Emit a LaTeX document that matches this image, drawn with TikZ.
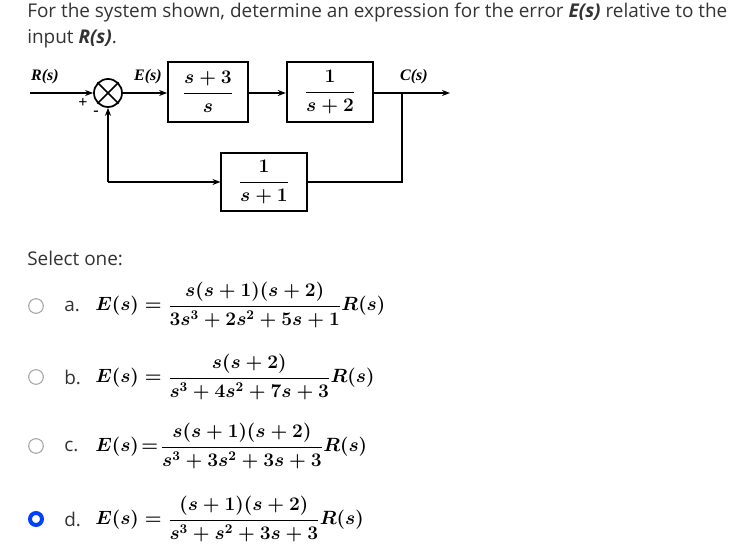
\documentclass[tikz,border=0pt]{standalone}
\usepackage{fontspec}
\usepackage{amsmath}
\setmainfont{Open Sans}
\newfontfamily\serifb{Liberation Serif}
\usetikzlibrary{arrows.meta}
\begin{document}
\begin{tikzpicture}[x=0.75pt,y=-0.75pt,
  blk/.style={draw,line width=1.3pt,minimum width=#1,minimum height=45pt,inner sep=0pt,font=\fontsize{14.5}{15}\selectfont\boldmath},
  sig/.style={line width=1.3pt,-{Stealth[length=6pt]}},
  ln/.style={line width=1.3pt},
  lab/.style={font=\fontsize{12}{12}\selectfont\serifb\bfseries\itshape},
  txt/.style={font=\fontsize{14.2}{16}\selectfont,text=black!80,anchor=west,inner sep=0pt},
  ans/.style={font=\fontsize{14}{16}\selectfont\boldmath,anchor=west,inner sep=0pt},
  radio/.style={circle,draw=black!35,line width=0.8pt,minimum size=11pt,inner sep=0pt}]
\useasboundingbox (0,0) rectangle (749,548);
\node[txt] (h1) at (27,13) {For the system shown, determine an expression for the error \textbf{\textit{E(s)}} relative to the};
\node[txt] (h2) at (27,39) {input \textbf{\textit{R(s)}}.};
% diagram
\coordinate (in) at (30,93);
\node[circle,draw,line width=1.3pt,minimum size=21pt,inner sep=0pt] (sum) at (108,93) {};
\draw[line width=1.1pt] (sum.45)--(sum.225) (sum.135)--(sum.315);
\node[blk=60pt] (g1) at (208,92) {$\dfrac{s+3}{s}$};
\node[blk=65pt] (g2) at (330,92) {$\dfrac{1}{s+2}$};
\node[blk=64pt,minimum height=43pt] (h) at (264,182) {$\dfrac{1}{s+1}$};
\coordinate (br) at (402,93);
\coordinate (out) at (450,93);
\coordinate (fl) at (108,182);
\draw[sig] (in)--(sum);
\draw[sig] (sum)--(g1.west|-sum);
\draw[sig] (g1.east|-sum)--(g2.west|-sum);
\draw[sig] (g2.east|-sum)--(out);
\draw[ln] (br)|-(h.east);
\draw[sig] (fl)--(h.west);
\draw[sig] (fl)--(sum.south);
\node[lab] (rl) at (45,77) {R(s)};
\node[lab] (el) at (148,77) {E(s)};
\node[lab] (cl) at (414,77) {C(s)};
\node[font=\bfseries\large\serifb] (pl) at (83,103) {+};
\node[font=\bfseries\large\serifb] (ml) at (96,113) {-};
% options
\node[txt] (sel) at (27,258) {Select one:};
\node[radio] (ra) at (36,306) {};
\node[radio] (rb) at (36,377) {};
\node[radio] (rc) at (36,446) {};
\node[radio,draw=blue!75!cyan,line width=3pt,minimum size=9pt] (rd) at (36,519) {};
\node[txt] (la) at (64,306) {a.};
\node[txt] (lb) at (64,377) {b.};
\node[txt] (lc) at (64,446) {c.};
\node[txt] (ld) at (64,519) {d.};
\node[ans] (ea) at (95,305) {$E(s)=\dfrac{s(s+1)(s+2)}{3s^3+2s^2+5s+1}R(s)$};
\node[ans] (eb) at (95,377) {$E(s)=\dfrac{s(s+2)}{s^3+4s^2+7s+3}R(s)$};
\node[ans] (ec) at (95,446) {$E(s)\!=\!\dfrac{s(s+1)(s+2)}{s^3+3s^2+3s+3}R(s)$};
\node[ans] (ed) at (95,519) {$E(s)=\dfrac{(s+1)(s+2)}{s^3+s^2+3s+3}R(s)$};
\end{tikzpicture}
\end{document}
